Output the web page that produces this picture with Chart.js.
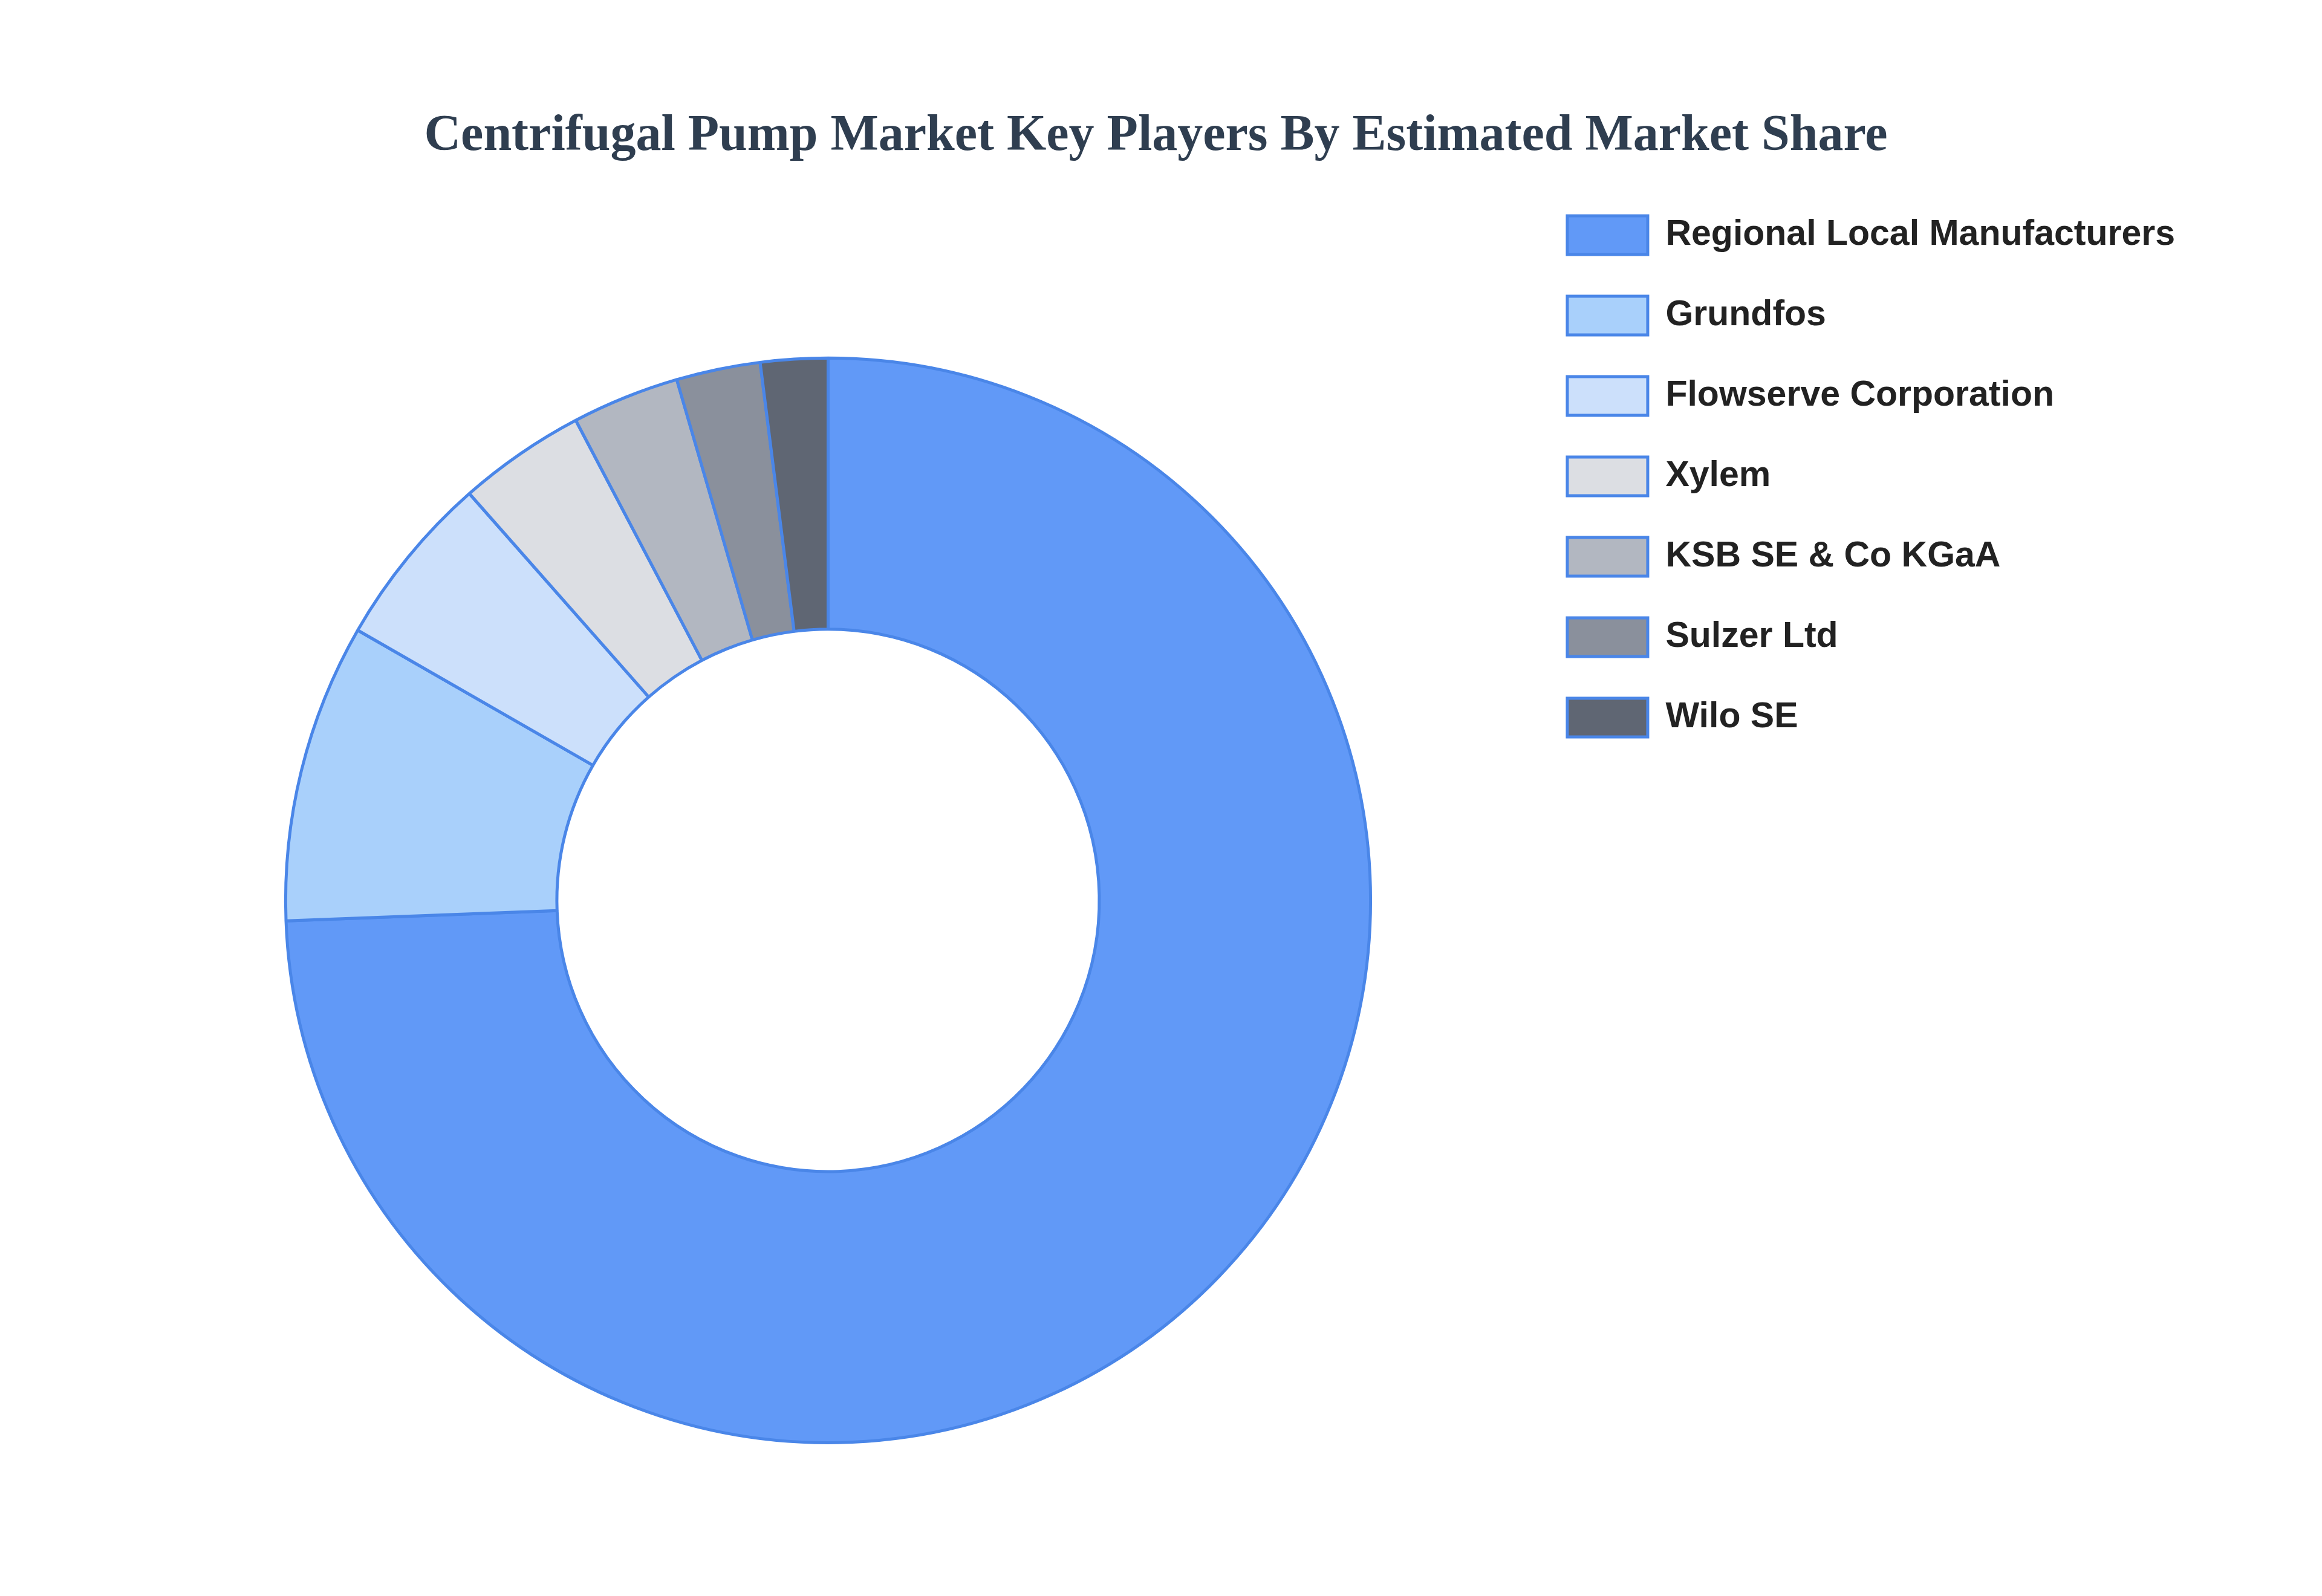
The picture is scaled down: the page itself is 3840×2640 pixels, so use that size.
<!DOCTYPE html>
<html><head><meta charset="utf-8">
<script src="https://cdn.jsdelivr.net/npm/chart.js@4"></script>
<style>html,body{margin:0;padding:0;background:#fff}#w{width:3840px;height:2640px}</style>
</head><body><div id="w"><canvas id="c"></canvas></div>
<script>
const categories = ["Regional Local Manufacturers","Grundfos","Flowserve Corporation","Xylem","KSB SE & Co KGaA","Sulzer Ltd","Wilo SE"];
const shares = [74.4, 8.9, 5.2, 3.8, 3.2, 2.5, 2.0];
const colors = ["#6199F7","#A9D0FB","#CCE0FB","#DCDEE3","#B2B7C1","#8A909C","#5F6673"];
new Chart(document.getElementById('c'), {
  type: 'doughnut',
  data: { labels: categories, datasets: [{ data: shares, backgroundColor: colors, borderColor: '#4A86E8', borderWidth: 5 }] },
  options: {
    responsive: true, maintainAspectRatio: false, animation: false, cutout: '50%',
    layout: { padding: { left: 216, right: 233, top: 0, bottom: 251 } },
    plugins: {
      title: { display: true, text: 'Centrifugal Pump Market Key Players By Estimated Market Share',
        color: '#2F3E50', font: { family: 'Liberation Serif', size: 84, weight: 'bold' }, padding: { top: 176, bottom: 313 } },
      legend: { position: 'right', align: 'start',
        title: { display: true, text: '', font: { size: 240 }, padding: 0 },
        labels: { boxWidth: 133, boxHeight: 64, padding: 69, color: '#222',
          font: { family: 'Liberation Sans', size: 59, weight: 'bold' } } },
      tooltip: { enabled: false }
    }
  }
});
</script></body></html>
